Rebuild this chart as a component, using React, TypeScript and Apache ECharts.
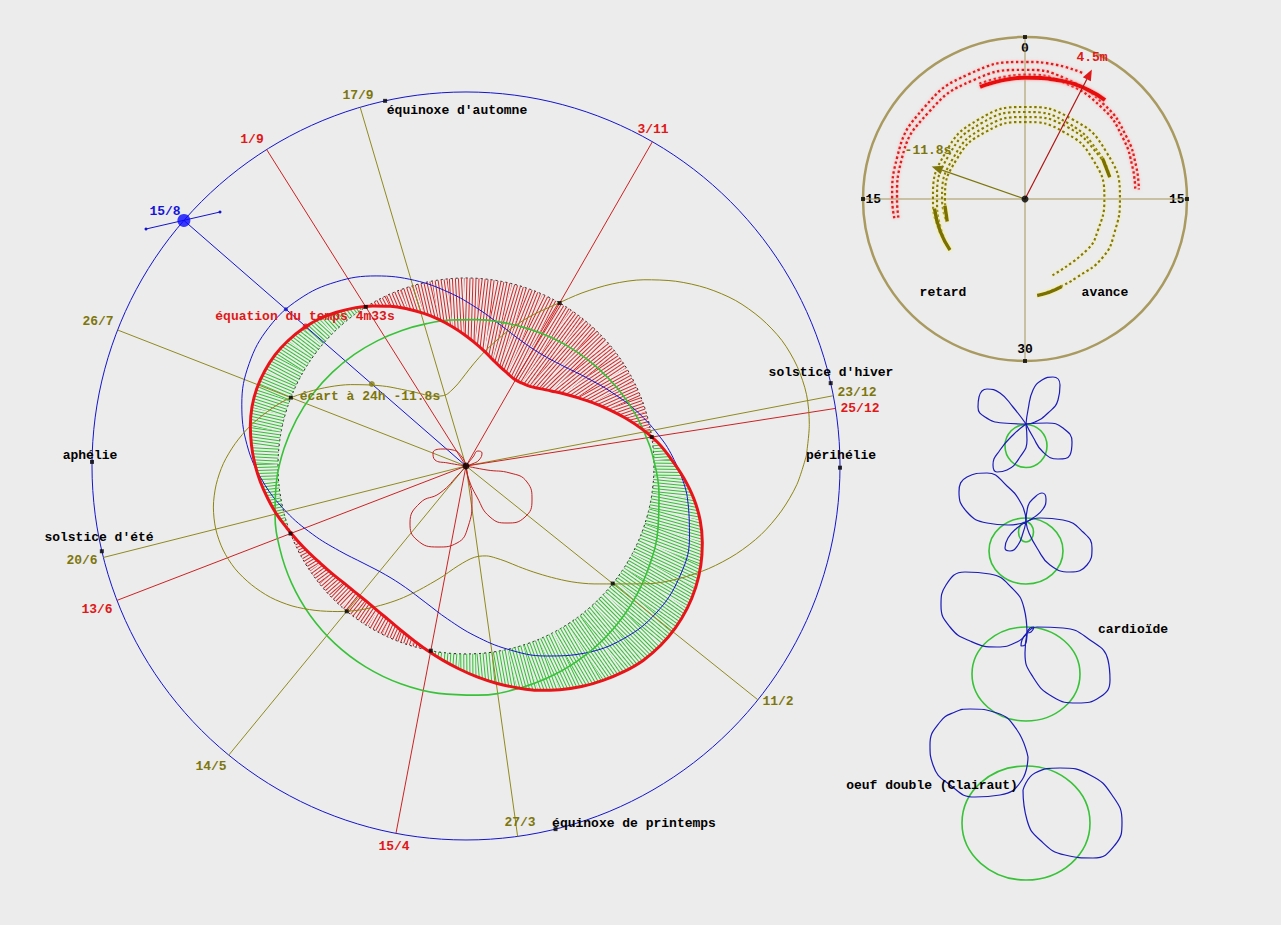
import React, { useEffect, useRef } from "react";
import * as echarts from "echarts";

// ================= DATA =================
// Equation of time, minutes (sundial fast = +), one value every 5 days from 1 January
const DAYS5 = Array.from({ length: 73 }, (_, i) => 1 + 5 * i);
const EOT_MIN = [
  -3.3, -5.6, -7.8, -9.7, -11.2, -12.4, -13.3, -13.9, -14.2, -14.2, -13.9, -13.2,
  -12.3, -11.3, -10.1, -8.8, -7.3, -5.8, -4.3, -2.8, -1.4, -0.1, 1.1, 2.1,
  2.9, 3.4, 3.7, 3.7, 3.5, 3.0, 2.4, 1.6, 0.7, -0.3, -1.4, -2.4,
  -3.4, -4.3, -5.1, -5.8, -6.3, -6.5, -6.4, -6.1, -5.5, -4.7, -3.7, -2.4,
  -1.0, 0.5, 2.1, 3.8, 5.5, 7.2, 8.9, 10.5, 12.0, 13.3, 14.5, 15.4,
  16.0, 16.4, 16.3, 15.9, 15.0, 13.8, 12.3, 10.6, 8.6, 6.4, 4.0, 1.5, -1.0,
];
// Deviation of the solar day from 24 h, seconds, same dates
const DAY_LENGTH_S = [
  28.5, 26.8, 24.4, 21.5, 18.0, 14.1, 9.9, 5.5, 0.9, -2.6, -5.8, -8.9,
  -11.6, -13.9, -15.8, -17.1, -17.9, -18.1, -17.8, -17.0, -15.8, -14.1, -12.2, -9.9,
  -7.3, -4.6, -1.7, 1.1, 3.9, 6.6, 8.9, 10.7, 12.1, 12.9, 13.1, 12.7,
  11.7, 10.2, 8.2, 5.9, 3.3, 0.6, -2.6, -5.7, -8.7, -11.6, -14.1, -16.4,
  -18.2, -19.7, -20.7, -21.2, -21.3, -20.7, -19.7, -18.1, -16.0, -13.5, -10.7, -7.5,
  -4.2, -0.7, 3.8, 8.5, 13.0, 17.1, 20.8, 24.0, 26.5, 28.4, 29.5, 29.9, 29.5,
];
// Components of the equation of time (minutes), every 10 days from 1 January
const DAYS10 = Array.from({ length: 37 }, (_, i) => 1 + 10 * i);
const EOT_OBLIQUITY = [
  -3.73, -6.6, -8.69, -9.76, -9.69, -8.48, -6.27, -3.33, 0, 3.33, 6.27, 8.48, 9.69,
  9.76, 8.69, 6.6, 3.73, 0.43, -2.93, -5.94, -8.25, -9.59, -9.81, -8.88, -6.9,
  -4.12, -0.85, 2.52, 5.59, 8.01, 9.49, 9.85, 9.06, 7.2, 4.5, 1.27, -2.11,
];
const EOT_ECCENTRICITY = [
  0.02, -1.29, -2.57, -3.77, -4.86, -5.81, -6.58, -7.16, -7.53, -7.68, -7.59, -7.29, -6.77,
  -6.05, -5.15, -4.09, -2.92, -1.66, -0.35, 0.97, 2.26, 3.48, 4.6, 5.59, 6.41,
  7.04, 7.46, 7.66, 7.64, 7.39, 6.92, 6.24, 5.39, 4.37, 3.22, 1.98, 0.68,
];

// dated radii (day of year)
const RED_DATES = [
  { label: "1/9", day: 244 }, { label: "3/11", day: 307 }, { label: "25/12", day: 359 },
  { label: "13/6", day: 164 }, { label: "15/4", day: 105 },
];
const OLIVE_DATES = [
  { label: "17/9", day: 260 }, { label: "26/7", day: 207 }, { label: "23/12", day: 357 },
  { label: "20/6", day: 171 }, { label: "14/5", day: 134 }, { label: "11/2", day: 42 },
  { label: "27/3", day: 86 },
];
const CURRENT_DAY = 227; // 15/8
const CURRENT_EOT = -4.55; // 4m33s
const CURRENT_DAYLEN = -11.8; // s
const EVENT_DAYS = [3, 80, 172, 186, 264, 355]; // périhélie, équinoxes, solstices, aphélie
const CROSSING_DAYS = [42, 105, 134, 164, 207, 244, 307, 359];

// small dial: tracks of daily points [radius (0..1), value]
const RED_TRACKS = [
  [[0.815, -16.4], [0.82, -15], [0.83, -12], [0.84, -8], [0.845, -4], [0.846, 0], [0.85, 2], [0.855, 4.1]],
  [[0.79, -16.4], [0.79, -15], [0.8, -12], [0.8, -8], [0.8, -4], [0.797, 0], [0.785, 3], [0.76, 6.7], [0.735, 9.7], [0.715, 12.3], [0.705, 14.2]],
  [[0.765, -3.6], [0.767, 0], [0.758, 3], [0.737, 6.7], [0.712, 9.7], [0.692, 12.3], [0.683, 14.2]],
];
const RED_DENSE = [[[0.745, -3.65], [0.748, 0], [0.765, 3], [0.778, 5], [0.785, 6.5]]];
const OLIVE_TRACKS = [
  [[0.6, 28.8], [0.584, 26.7], [0.58, 24.4], [0.6, 21.1], [0.59, 18.4], [0.586, 15], [0.58, 10], [0.572, 5], [0.568, 0], [0.568, -5], [0.568, -10], [0.568, -15], [0.565, -18], [0.56, -20.7]],
  [[0.54, 12.6], [0.54, 10], [0.538, 5], [0.537, 0], [0.54, -5], [0.542, -10], [0.543, -15], [0.55, -18], [0.56, -20.7]],
  [[0.54, 12.6], [0.53, 10], [0.515, 5], [0.506, 0], [0.508, -5], [0.51, -10], [0.512, -15], [0.505, -17.7]],
  [[0.5, 26.7], [0.495, 21.6], [0.49, 18.9], [0.49, 15], [0.485, 10], [0.478, 5], [0.475, 0], [0.48, -5], [0.488, -10], [0.494, -15], [0.5, -17.7]],
];
const OLIVE_DENSE = [
  [[0.562, -16], [0.56, -18.5], [0.56, -20.7]],
  [[0.586, 26.2], [0.595, 27.6], [0.6, 28.8]],
  [[0.54, 10.4], [0.54, 12.6]],
  [[0.496, -15.8], [0.5, -17.7]],
];
const ARROW_VALUES = [
  { r: 0.9, v: 4.55, color: "#e01818", line: "#b01414" },
  { r: 0.61, v: -11.8, color: "#7d760c", line: "#7d760c" },
];

// side figures (traced)
const CLOVER_LOBES = [
  [[466, 466], [448, 463], [435, 460], [433, 453], [442, 449], [453, 450], [462, 457], [466, 466]],
  [[466, 466], [473, 457], [478, 451], [482, 453], [479, 460], [472, 464], [466, 466]],
  [[466, 466], [487, 470], [510, 473], [527, 482], [532, 500], [525, 517], [507, 523], [490, 517], [477, 497], [468, 477], [466, 466]],
  [[466, 466], [460, 473], [440, 493], [420, 503], [410, 523], [417, 540], [438, 547], [457, 543], [468, 527], [472, 500], [468, 477], [466, 466]],
];
const ROSETTE_LOOPS = [
  [[1026, 424], [1013, 407], [1000, 393], [987, 389], [979, 397], [978, 407], [985, 417], [1003, 423], [1026, 424]],
  [[1026, 424], [1028, 410], [1033, 390], [1042, 380], [1053, 377], [1060, 385], [1058, 400], [1048, 413], [1035, 422], [1026, 424]],
  [[1026, 424], [1047, 423], [1063, 428], [1072, 442], [1070, 455], [1058, 459], [1043, 452], [1033, 437], [1026, 424]],
  [[1026, 424], [1013, 435], [1000, 450], [993, 465], [997, 472], [1007, 470], [1020, 457], [1027, 440], [1026, 424]],
  [[1026, 522], [1022, 505], [1007, 486], [987, 473], [967, 477], [959, 492], [967, 512], [987, 523], [1008, 525], [1026, 522]],
  [[1026, 522], [1028, 506], [1035, 497], [1042, 493], [1046, 499], [1043, 509], [1033, 518], [1026, 522]],
  [[1026, 522], [1040, 518], [1063, 520], [1083, 532], [1092, 548], [1087, 565], [1070, 572], [1050, 565], [1037, 548], [1029, 533], [1026, 522]],
  [[1026, 522], [1017, 528], [1008, 538], [1005, 548], [1010, 551], [1018, 545], [1023, 533], [1026, 522]],
  [[1027, 633], [1024, 608], [1012, 588], [990, 574], [965, 572], [946, 585], [941, 605], [950, 627], [970, 641], [997, 647], [1017, 642], [1027, 633]],
  [[1027, 633], [1037, 627], [1063, 628], [1090, 640], [1108, 660], [1110, 680], [1100, 697], [1077, 703], [1053, 697], [1033, 677], [1025, 653], [1027, 633]],
  [[1027, 633], [1022, 640], [1021, 646], [1025, 645], [1027, 633]],
  [[1027, 633], [1030, 628], [1034, 627], [1031, 632], [1027, 633]],
  [[1028, 757], [1022, 780], [1000, 795], [975, 797], [950, 785], [933, 765], [930, 745], [940, 722], [955, 712], [970, 709], [997, 713], [1017, 730], [1028, 757]],
  [[1023, 790], [1035, 773], [1060, 768], [1090, 775], [1112, 795], [1122, 822], [1115, 845], [1093, 858], [1065, 855], [1040, 840], [1027, 820], [1023, 790]],
];
const ROSETTE_CIRCLES = [
  [1026, 446, 21, 21.5],
  [1026, 551, 37, 33],
  [1026, 532, 7.5, 10],
  [1026, 674, 54, 47],
  [1026, 823, 64, 57],
];
const TANGENT_15_8 = [[146, 229], [220, 212]];

// ================= STYLE / LAYOUT =================
const BG = "#ececec";
const BLUE = "#1414cc";
const RED_LINE = "#cc2222";
const RED_CURVE = "#e8141a";
const OLIVE_LINE = "#8f8a1e";
const OLIVE_CURVE = "#8c8410";
const GREEN = "#38c238";
const T_RED = "#e01818";
const T_OLIVE = "#7d760c";
const T_BLUE = "#1515d8";
const T_BLACK = "#000000";
const FONT = 'bold 13px "Liberation Mono", "DejaVu Sans Mono", monospace';
const MAIN_CENTER = [466, 466];
const DIAL_CENTER = [1025, 199];

const LABELS: [string, number, number, string][] = [
  ["17/9", 358, 95, T_OLIVE],
  ["équinoxe d'automne", 457, 110, T_BLACK],
  ["1/9", 252, 139, T_RED],
  ["3/11", 653, 129, T_RED],
  ["15/8", 165, 211, T_BLUE],
  ["26/7", 98, 321, T_OLIVE],
  ["équation du temps 4m33s", 305, 316, T_RED],
  ["écart à 24h -11.8s", 370, 396, T_OLIVE],
  ["aphélie", 90, 455, T_BLACK],
  ["solstice d'été", 99, 537, T_BLACK],
  ["20/6", 82, 560, T_OLIVE],
  ["13/6", 97, 609, T_RED],
  ["14/5", 211, 766, T_OLIVE],
  ["15/4", 394, 846, T_RED],
  ["27/3", 520, 822, T_OLIVE],
  ["équinoxe de printemps", 634, 823, T_BLACK],
  ["11/2", 778, 701, T_OLIVE],
  ["solstice d'hiver", 831, 372, T_BLACK],
  ["23/12", 857, 392, T_OLIVE],
  ["25/12", 860, 408, T_RED],
  ["périhélie", 841, 455, T_BLACK],
  ["retard", 943, 292, T_BLACK],
  ["avance", 1105, 292, T_BLACK],
  ["-11.8s", 928, 150, T_OLIVE],
  ["4.5m", 1092, 57, T_RED],
  ["cardioïde", 1133, 629, T_BLACK],
  ["oeuf double (Clairaut)", 932, 785, T_BLACK],
];

const EOT_AXIS = { min: -34.44, max: 34.81 };
const DAYLEN_AXIS = { min: -35.14, max: 34.77 };

function makeTile(color: string) {
  const c = document.createElement("canvas");
  c.width = 4;
  c.height = 3;
  const ctx = c.getContext("2d") as CanvasRenderingContext2D;
  ctx.fillStyle = color;
  ctx.fillRect(0, 1, 4, 1);
  return c.toDataURL("image/png");
}

function closeLoop(values: number[], days: number[]) {
  const d = values.map((v, i) => [v, days[i]]);
  d.push([values[0], days[0] + 365.25]);
  return d;
}

function buildOption() {
  const redTile = makeTile("#d42424");
  const greenTile = makeTile("#2fbf2f");
  const n = DAYS5.length;

  const dayAngle = {
    type: "value", min: 0, max: 365.25, startAngle: 2.7, clockwise: true,
    axisTick: { show: false }, axisLabel: { show: false }, splitLine: { show: false },
  };

  const series: any[] = [];

  // hatching between the mean circle and the equation-of-time curve
  series.push({
    type: "custom", coordinateSystem: "polar", polarIndex: 1, z: 1, clip: false, silent: true,
    data: DAYS5.map((d, i) => [EOT_MIN[i], d]),
    renderItem: (params: any, api: any) => {
      const i = params.dataIndex;
      const j = (i + 1) % n;
      const d0 = DAYS5[i];
      const d1 = i + 1 < n ? DAYS5[i + 1] : DAYS5[0] + 365.25;
      const e0 = EOT_MIN[i];
      const e1 = EOT_MIN[j];
      const a = api.coord([0, d0]);
      const b = api.coord([e0, d0]);
      const c = api.coord([e1, d1]);
      const d = api.coord([0, d1]);
      const cx = params.coordSys.cx;
      const cy = params.coordSys.cy;
      const rot = Math.atan2((a[1] + d[1]) / 2 - cy, (a[0] + d[0]) / 2 - cx);
      const inside = e0 + e1 > 0;
      return {
        type: "polygon",
        shape: { points: [[a[0], a[1]], [b[0], b[1]], [c[0], c[1]], [d[0], d[1]]] },
        style: {
          fill: { image: inside ? redTile : greenTile, repeat: "repeat", imageWidth: 4, imageHeight: 3, rotation: rot },
          stroke: "none",
        },
      };
    },
  });

  // dated radii
  const dateLines = (list: { day: number }[], color: string) => ({
    type: "custom", coordinateSystem: "polar", polarIndex: 0, z: 2, clip: false, silent: true,
    data: list.map((l) => [1, l.day]),
    renderItem: (params: any, api: any) => {
      const day = list[params.dataIndex].day;
      const p0 = api.coord([0, day]);
      const p1 = api.coord([1, day]);
      return { type: "line", shape: { x1: p0[0], y1: p0[1], x2: p1[0], y2: p1[1] }, style: { stroke: color, lineWidth: 1 } };
    },
  });
  series.push(dateLines(OLIVE_DATES, OLIVE_LINE));
  series.push(dateLines(RED_DATES, RED_LINE));
  series.push(dateLines([{ day: CURRENT_DAY }], BLUE));

  // obliquity (blue) and eccentricity (green) components
  series.push({
    type: "line", coordinateSystem: "polar", polarIndex: 1, z: 3, clip: false, silent: true,
    data: closeLoop(EOT_OBLIQUITY, DAYS10), smooth: 0.4, showSymbol: false,
    lineStyle: { color: BLUE, width: 1 },
  });
  series.push({
    type: "line", coordinateSystem: "polar", polarIndex: 1, z: 3, clip: false, silent: true,
    data: closeLoop(EOT_ECCENTRICITY, DAYS10), smooth: 0.4, showSymbol: false,
    lineStyle: { color: GREEN, width: 1.6 },
  });
  // day length deviation (olive)
  series.push({
    type: "line", coordinateSystem: "polar", polarIndex: 2, z: 3, clip: false, silent: true,
    data: closeLoop(DAY_LENGTH_S, DAYS5), smooth: 0.3, showSymbol: false,
    lineStyle: { color: OLIVE_CURVE, width: 1 },
  });
  // equation of time (red, thick)
  series.push({
    type: "line", coordinateSystem: "polar", polarIndex: 1, z: 5, clip: false, silent: true,
    data: closeLoop(EOT_MIN, DAYS5), smooth: 0.4, showSymbol: false,
    lineStyle: { color: RED_CURVE, width: 3 },
  });

  // points
  series.push({
    type: "scatter", coordinateSystem: "polar", polarIndex: 1, z: 6, clip: false, silent: true,
    data: CROSSING_DAYS.map((d) => [0, d]), symbol: "rect", symbolSize: 4,
    itemStyle: { color: "#000" },
  });
  series.push({
    type: "scatter", coordinateSystem: "polar", polarIndex: 0, z: 6, clip: false, silent: true,
    data: EVENT_DAYS.map((d) => [1, d]), symbol: "rect", symbolSize: 4,
    itemStyle: { color: "#000" },
  });
  series.push({
    type: "scatter", coordinateSystem: "polar", polarIndex: 0, z: 6, clip: false, silent: true,
    data: [[0, 0]], symbolSize: 7, itemStyle: { color: "#000" },
  });
  series.push({
    type: "scatter", coordinateSystem: "polar", polarIndex: 0, z: 6, clip: false, silent: true,
    data: [[1, CURRENT_DAY]], symbolSize: 13, itemStyle: { color: "#0a0aff" },
  });
  series.push({
    type: "scatter", coordinateSystem: "polar", polarIndex: 1, z: 6, clip: false, silent: true,
    data: [[CURRENT_EOT, CURRENT_DAY]], symbolSize: 6, itemStyle: { color: "#e8141a" },
  });
  series.push({
    type: "scatter", coordinateSystem: "polar", polarIndex: 1, z: 6, clip: false, silent: true,
    data: [[-9.4, CURRENT_DAY]], symbolSize: 4, itemStyle: { color: BLUE },
  });
  series.push({
    type: "scatter", coordinateSystem: "polar", polarIndex: 2, z: 6, clip: false, silent: true,
    data: [[CURRENT_DAYLEN, CURRENT_DAY]], symbolSize: 6, itemStyle: { color: "#857d10" },
  });

  // tangent segment at 15/8 (cartesian)
  series.push({
    type: "line", xAxisIndex: 0, yAxisIndex: 0, z: 4, silent: true, clip: false,
    data: TANGENT_15_8, showSymbol: true, symbol: "circle", symbolSize: 3,
    itemStyle: { color: BLUE }, lineStyle: { color: BLUE, width: 1 },
  });
  // red clover
  CLOVER_LOBES.forEach((lobe) =>
    series.push({
      type: "line", xAxisIndex: 0, yAxisIndex: 0, z: 4, silent: true, clip: false,
      data: lobe, smooth: 0.5, showSymbol: false, lineStyle: { color: "#c42020", width: 1 },
    })
  );
  // rosettes
  ROSETTE_LOOPS.forEach((lobe) =>
    series.push({
      type: "line", xAxisIndex: 0, yAxisIndex: 0, z: 4, silent: true, clip: false,
      data: lobe, smooth: 0.5, showSymbol: false, lineStyle: { color: "#1a1ab8", width: 1.2 },
    })
  );
  series.push({
    type: "custom", xAxisIndex: 0, yAxisIndex: 0, z: 3, silent: true, clip: false,
    data: ROSETTE_CIRCLES,
    renderItem: (params: any, api: any) => {
      const c = api.coord([api.value(0), api.value(1)]);
      const s = api.size([api.value(2), api.value(3)]);
      return {
        type: "ellipse",
        shape: { cx: c[0], cy: c[1], rx: s[0], ry: s[1] },
        style: { fill: "none", stroke: GREEN, lineWidth: 1.6 },
      };
    },
  });

  // small dial tracks
  RED_TRACKS.forEach((t) =>
    series.push({
      type: "line", coordinateSystem: "polar", polarIndex: 4, z: 4, silent: true, clip: false,
      data: t, smooth: 0.5, showSymbol: false,
      lineStyle: { color: "#e01c1c", width: 2.4, type: [2.5, 2.5], shadowBlur: 3, shadowColor: "rgba(255,140,140,0.9)" },
    })
  );
  RED_DENSE.forEach((t) =>
    series.push({
      type: "line", coordinateSystem: "polar", polarIndex: 4, z: 5, silent: true, clip: false,
      data: t, smooth: 0.5, showSymbol: false,
      lineStyle: { color: "#e81010", width: 4, shadowBlur: 3, shadowColor: "rgba(255,140,140,0.9)" },
    })
  );
  OLIVE_TRACKS.forEach((t) =>
    series.push({
      type: "line", coordinateSystem: "polar", polarIndex: 4, z: 4, silent: true, clip: false,
      data: t, smooth: 0.5, showSymbol: false,
      lineStyle: { color: "#857a05", width: 2.2, type: [2.5, 2.5], shadowBlur: 3, shadowColor: "rgba(250,240,120,0.9)" },
    })
  );
  OLIVE_DENSE.forEach((t) =>
    series.push({
      type: "line", coordinateSystem: "polar", polarIndex: 4, z: 5, silent: true, clip: false,
      data: t, smooth: 0.5, showSymbol: false,
      lineStyle: { color: "#7a7000", width: 3.5, shadowBlur: 3, shadowColor: "rgba(250,240,120,0.9)" },
    })
  );
  series.push({
    type: "custom", coordinateSystem: "polar", polarIndex: 4, z: 7, clip: false, silent: true,
    data: ARROW_VALUES.map((a) => [a.r, a.v]),
    renderItem: (params: any, api: any) => {
      const a = ARROW_VALUES[params.dataIndex];
      const cx = params.coordSys.cx;
      const cy = params.coordSys.cy;
      const p = api.coord([a.r, a.v]);
      const dx = p[0] - cx;
      const dy = p[1] - cy;
      const L = Math.hypot(dx, dy) || 1;
      const ux = dx / L;
      const uy = dy / L;
      const hl = 11;
      const hw = 4.5;
      const bx = p[0] - ux * hl;
      const by = p[1] - uy * hl;
      return {
        type: "group",
        children: [
          { type: "line", shape: { x1: cx, y1: cy, x2: bx, y2: by }, style: { stroke: a.line, lineWidth: 1.2 } },
          {
            type: "polygon",
            shape: { points: [[p[0], p[1]], [bx - uy * hw, by + ux * hw], [bx + uy * hw, by - ux * hw]] },
            style: { fill: a.color, stroke: "none" },
          },
        ],
      };
    },
  });
  series.push({
    type: "scatter", coordinateSystem: "polar", polarIndex: 4, z: 8, clip: false, silent: true,
    data: [[1, -30], [1, -15], [1, 0], [1, 15]], symbol: "rect", symbolSize: 4,
    itemStyle: { color: "#000" },
  });
  series.push({
    type: "scatter", coordinateSystem: "polar", polarIndex: 4, z: 8, clip: false, silent: true,
    data: [[0, 0]], symbolSize: 7, itemStyle: { color: "#000" },
  });

  return {
    animation: false,
    backgroundColor: BG,
    grid: [{ left: 0, right: 0, top: 0, bottom: 0 }],
    xAxis: [{ type: "value", min: 0, max: 1281, show: false }],
    yAxis: [{ type: "value", min: 0, max: 925, inverse: true, show: false }],
    polar: [
      { center: MAIN_CENTER, radius: 374 },
      { center: MAIN_CENTER, radius: 374 },
      { center: MAIN_CENTER, radius: 374 },
      { center: MAIN_CENTER, radius: 188 },
      { center: DIAL_CENTER, radius: 162 },
    ],
    angleAxis: [
      { polarIndex: 0, ...dayAngle, axisLine: { show: true, lineStyle: { color: BLUE, width: 1 } } },
      { polarIndex: 1, ...dayAngle, show: false },
      { polarIndex: 2, ...dayAngle, show: false },
      { polarIndex: 3, ...dayAngle, axisLine: { show: true, lineStyle: { color: "#111", width: 1, type: [2, 3] } } },
      {
        polarIndex: 4, type: "value", min: -30, max: 30, interval: 15, startAngle: 270, clockwise: true,
        axisLine: { show: true, lineStyle: { color: "#a99a60", width: 2.5 } },
        axisTick: { show: false },
        splitLine: { show: true, lineStyle: { color: "#a39458", width: 1 } },
        axisLabel: {
          show: true, margin: -18, color: "#000", fontWeight: "bold", fontSize: 13,
          fontFamily: '"Liberation Mono", monospace',
          formatter: (v: number) => String(Math.abs(v)),
        },
      },
    ],
    radiusAxis: [
      { polarIndex: 0, type: "value", min: 0, max: 1, show: false },
      { polarIndex: 1, type: "value", min: EOT_AXIS.min, max: EOT_AXIS.max, inverse: true, show: false },
      { polarIndex: 2, type: "value", min: DAYLEN_AXIS.min, max: DAYLEN_AXIS.max, show: false },
      { polarIndex: 3, type: "value", min: 0, max: 1, show: false },
      { polarIndex: 4, type: "value", min: 0, max: 1, show: false },
    ],
    graphic: LABELS.map(([text, x, y, color]) => ({
      type: "text", x, y, z: 100, silent: true,
      style: {
        text, fill: color, font: FONT,
        align: "center", verticalAlign: "middle", textAlign: "center", textVerticalAlign: "middle",
      },
    })),
    series,
  };
}

export default function App() {
  const ref = useRef<HTMLDivElement>(null);
  useEffect(() => {
    if (!ref.current) return;
    const chart = echarts.init(ref.current, null, { renderer: "svg" });
    chart.setOption(buildOption() as any);
    return () => chart.dispose();
  }, []);
  return (
    <div
      ref={ref}
      style={{ position: "fixed", left: 0, top: 0, width: "1281px", height: "925px", background: BG }}
    />
  );
}
